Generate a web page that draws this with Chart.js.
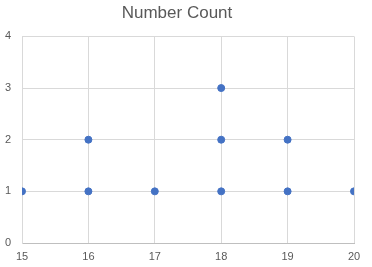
<!DOCTYPE html>
<html lang="en">
<head>
    <meta charset="UTF-8">
    <title>Number Count</title>
    <script src="https://cdn.jsdelivr.net/npm/chart.js"></script>
    <style>
        html, body { margin: 0; padding: 0; background: #fff; }
    </style>
</head>
<body>
    <canvas id="countChart" width="372" height="267"></canvas>

    <script>
        // values
        const xValues = [15, 16, 16, 17, 18, 18, 18, 19, 19, 20];
        const yValues = [1, 1, 2, 1, 1, 2, 3, 1, 2, 1];
        const xTicks = [15, 16, 17, 18, 19, 20];
        const yTicks = [0, 1, 2, 3, 4];

        const points = xValues.map((x, i) => ({ x: x, y: yValues[i] }));

        new Chart(document.getElementById('countChart'), {
            type: 'scatter',
            data: {
                datasets: [{
                    label: 'Count',
                    data: points,
                    backgroundColor: '#4472c4',
                    borderColor: '#4472c4',
                    pointRadius: 3.5,
                    pointHoverRadius: 3.5
                }]
            },
            options: {
                responsive: false,
                animation: false,
                layout: { padding: { left: 0, right: 18, top: 0, bottom: 0 } },
                plugins: {
                    legend: { display: false },
                    tooltip: { enabled: false },
                    title: {
                        display: true,
                        text: 'Number Count',
                        color: '#595959',
                        font: { family: 'Liberation Sans', size: 17, weight: 'normal' },
                        padding: { top: 3, bottom: 13 }
                    }
                },
                scales: {
                    x: {
                        type: 'linear',
                        min: xTicks[0],
                        max: xTicks[xTicks.length - 1],
                        afterBuildTicks: axis => { axis.ticks = xTicks.map(v => ({ value: v })); },
                        afterFit: axis => { axis.height = 24; },
                        grid: { color: '#d9d9d9', drawTicks: false },
                        border: { color: '#bfbfbf' },
                        ticks: {
                            color: '#595959',
                            padding: 7,
                            font: { family: 'Liberation Sans', size: 11 }
                        }
                    },
                    y: {
                        min: yTicks[0],
                        max: yTicks[yTicks.length - 1],
                        afterBuildTicks: axis => { axis.ticks = yTicks.map(v => ({ value: v })); },
                        afterFit: axis => { axis.width = 22; },
                        grid: { color: '#d9d9d9', drawTicks: false },
                        border: { color: '#d9d9d9' },
                        ticks: {
                            color: '#595959',
                            padding: 11,
                            font: { family: 'Liberation Sans', size: 11 }
                        }
                    }
                }
            }
        });
    </script>
</body>
</html>
